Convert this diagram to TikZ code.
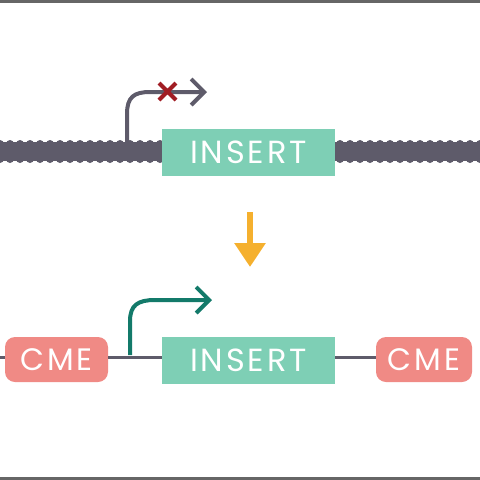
\documentclass[tikz,border=0pt]{standalone}
\usepackage{fontspec}
\setmainfont{Poppins}[LetterSpace=9]
\usetikzlibrary{arrows.meta}
\definecolor{chromgray}{HTML}{5E5B6A}
\definecolor{insertgreen}{HTML}{7ECFB5}
\definecolor{cmered}{HTML}{F08A85}
\definecolor{promgreen}{HTML}{137A6A}
\definecolor{crossred}{HTML}{A11D24}
\definecolor{stepyellow}{HTML}{F5B02E}

\begin{document}
\begin{tikzpicture}[x=1pt,y=-1pt,
  insertbox/.style={fill=insertgreen, text=white, minimum width=173pt, minimum height=47pt,
    inner sep=0pt, font=\fontsize{32}{32}\selectfont},
  cmebox/.style={fill=cmered, text=white, rounded corners=10pt, minimum height=45pt,
    inner sep=0pt, font=\fontsize{31}{31}\selectfont},
  promoter/.style={line width=4pt, -{Straight Barb[length=13pt,width=26pt,line width=4pt]}}]
  \useasboundingbox (0,0) rectangle (480,480);
  \fill[gray!80!black] (0,0) rectangle (480,2.5);
  \fill[gray!80!black] (0,477) rectangle (480,480);

  % silenced locus
  \fill[chromgray] (0,142) rectangle (480,161);
  \foreach \x in {0,10,...,480}
    \fill[chromgray] (\x,144) circle[radius=4pt] (\x,159) circle[radius=4pt];
  \node[insertbox] (insTop) at (248.5,152.5) {INSERT};
  \coordinate (tssTop) at (127,142);
  \draw[promoter, chromgray] (tssTop) -- (127,114) .. controls (127,97) and (134,92) .. (150,92) -- (207,92);
  \draw[crossred, line width=4pt] (159,83) -- (176,100) (176,83) -- (159,100);

  \draw[stepyellow, line width=6pt, -{Triangle[width=30pt,length=24pt]}] (250,212) -- (250,267);

  % insulated locus
  \node[cmebox, minimum width=103pt] (cmeL) at (56.5,359.5) {CME};
  \node[insertbox] (insBot) at (248.5,360) {INSERT};
  \node[cmebox, minimum width=96pt] (cmeR) at (424,359.5) {CME};
  \coordinate (lineL) at (0,357);
  \draw[chromgray, line width=3pt] (lineL) -- (cmeL.west |- lineL);
  \draw[chromgray, line width=3pt] (cmeL.east |- lineL) -- (insBot.west |- lineL);
  \draw[chromgray, line width=3pt] (insBot.east |- lineL) -- (cmeR.west |- lineL);
  \coordinate (tssBot) at (130,355);
  \draw[promoter, promgreen] (tssBot) -- (130,321) .. controls (130,305) and (138,300) .. (155,300) -- (212,300);
\end{tikzpicture}
\end{document}
